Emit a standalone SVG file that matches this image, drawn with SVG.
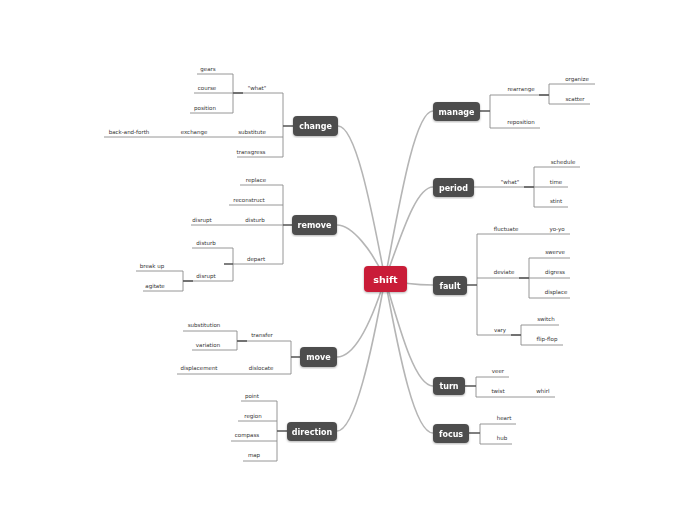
<svg xmlns="http://www.w3.org/2000/svg" width="697" height="520" viewBox="0 0 697 520">
<style>
.n rect{fill:#4d4d4d}
.n text{fill:#fff;font:bold 8px "DejaVu Sans",sans-serif;text-anchor:middle}
#shift rect{fill:#c91f37}
#shift text{font-size:9.5px}
.c{fill:none;stroke:#b5b5b5;stroke-width:1.6}
.b{fill:none;stroke:#8a8a8a;stroke-width:0.9}
.s{stroke:#555;stroke-width:1.4}
.t{font:5.5px "DejaVu Sans",sans-serif;fill:#333;text-anchor:middle}
</style>
<defs><filter id="sh"><feDropShadow dx="0" dy="1" stdDeviation="0.8" flood-opacity="0.3"/></filter></defs>
<rect width="697" height="520" fill="#fff"/>
<g id="connectors">
<path class="c" d="M385,279 C370,200 355,126 338,126"/>
<path class="c" d="M385,279 C372,250 352,225 337,225"/>
<path class="c" d="M385,279 C372,320 355,357 337,357"/>
<path class="c" d="M385,279 C372,350 355,431 337,431"/>
<path class="c" d="M385,279 C400,200 415,111 433,111"/>
<path class="c" d="M385,279 C400,240 415,187 433,187"/>
<path class="c" d="M385,279 C400,283 415,285 433,285"/>
<path class="c" d="M385,279 C400,330 415,386 433,386"/>
<path class="c" d="M385,279 C400,360 415,433 433,433"/>
<g class="b">
<path d="M197,74H233M194,93H283M190,113H233M233,74V113M104,137H283M237,157H283M283,93V157"/>
<path d="M240,185H283M229,205H283M191,225H283M233,264H283M283,185V264M192,248H233M183,281H233M233,248V281M136,271H183M143,291H183M183,271V291"/>
<path d="M237,341H291M177,374H291M291,341V374M183,331H237M192,350H237M237,331V350"/>
<path d="M241,401H277M238,421H277M231,441H277M243,461H277M277,401V461"/>
<path d="M490,95H549M490,128H540M490,95V128M549,84H595M549,104H590M549,84V104"/>
<path d="M474,187H568M534,167H580M534,207H568M534,167V207"/>
<path d="M477,234H570M477,278H570M477,335H521M477,234V335M529,258H570M529,298H570M529,258V298M521,325H559M521,345H563M521,325V345"/>
<path d="M476,377H509M476,397H555M476,377V397"/>
<path d="M480,424H516M480,444H512M480,424V444"/>
</g>
<g class="s">
<path d="M283,126H293M283,225H292M291,357H300M277,431H287M233,93H243M233,264H224M183,281H193M237,341H247M480,111H490M467,285H477M465,386H476M469,433H480M549,95H539M534,187H524M529,278H519M521,335H511"/>
</g>
</g>
<g class="t">
<text x="208" y="71">gears</text><text x="207" y="90">course</text><text x="205" y="110">position</text>
<text x="257" y="90">"what"</text><text x="252" y="134">substitute</text><text x="194" y="134">exchange</text>
<text x="129" y="134">back-and-forth</text><text x="251" y="154">transgress</text>
<text x="256" y="182">replace</text><text x="249" y="202">reconstruct</text><text x="202" y="222">disrupt</text>
<text x="255" y="222">disturb</text><text x="206" y="245">disturb</text><text x="256" y="261">depart</text>
<text x="152" y="268">break up</text><text x="155" y="288">agitate</text><text x="206" y="278">disrupt</text>
<text x="204" y="327">substitution</text><text x="208" y="347">variation</text><text x="262" y="337">transfer</text>
<text x="199" y="370">displacement</text><text x="261" y="370">dislocate</text>
<text x="252" y="398">point</text><text x="253" y="418">region</text><text x="247" y="437">compass</text><text x="254" y="457">map</text>
<text x="521" y="91">rearrange</text><text x="521" y="124">reposition</text><text x="577" y="81">organize</text><text x="575" y="101">scatter</text>
<text x="510" y="184">"what"</text><text x="563" y="164">schedule</text><text x="556" y="184">time</text><text x="556" y="203">stint</text>
<text x="506" y="231">fluctuate</text><text x="557" y="231">yo-yo</text><text x="504" y="274">deviate</text>
<text x="555" y="254">swerve</text><text x="555" y="274">digress</text><text x="556" y="294">displace</text>
<text x="500" y="332">vary</text><text x="546" y="321">switch</text><text x="547" y="341">flip-flop</text>
<text x="498" y="373">veer</text><text x="498" y="393">twist</text><text x="543" y="393">whirl</text>
<text x="504" y="420">heart</text><text x="502" y="440">hub</text>
</g>
<g id="shift" class="n" filter="url(#sh)"><rect x="364" y="266" width="43" height="26" rx="4"/><text x="385.5" y="282.5">shift</text></g>
<g id="change" class="n" filter="url(#sh)"><rect x="293" y="116" width="45" height="20" rx="4"/><text x="315.5" y="129">change</text></g>
<g id="remove" class="n" filter="url(#sh)"><rect x="292" y="215" width="45" height="20" rx="4"/><text x="314.5" y="228">remove</text></g>
<g id="move" class="n" filter="url(#sh)"><rect x="300" y="347" width="37" height="20" rx="4"/><text x="318.5" y="360">move</text></g>
<g id="direction" class="n" filter="url(#sh)"><rect x="287" y="422" width="50" height="19" rx="4"/><text x="312" y="434.5">direction</text></g>
<g id="manage" class="n" filter="url(#sh)"><rect x="433" y="102" width="47" height="19" rx="4"/><text x="456.5" y="114.5">manage</text></g>
<g id="period" class="n" filter="url(#sh)"><rect x="433" y="178" width="41" height="19" rx="4"/><text x="453.5" y="190.5">period</text></g>
<g id="fault" class="n" filter="url(#sh)"><rect x="433" y="276" width="34" height="19" rx="4"/><text x="450" y="288.5">fault</text></g>
<g id="turn" class="n" filter="url(#sh)"><rect x="433" y="377" width="32" height="18" rx="4"/><text x="449" y="389">turn</text></g>
<g id="focus" class="n" filter="url(#sh)"><rect x="433" y="424" width="36" height="19" rx="4"/><text x="451" y="436.5">focus</text></g>
</svg>
